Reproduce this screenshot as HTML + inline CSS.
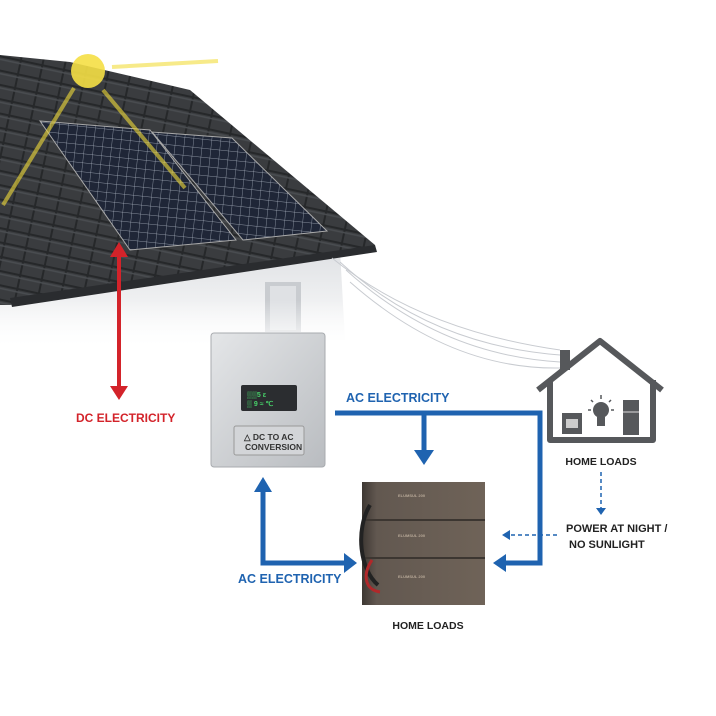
<!DOCTYPE html>
<html><head><style>html,body{margin:0;padding:0;background:#fff}svg{display:block}
text{font-family:"Liberation Sans",sans-serif;font-weight:bold}</style></head><body>
<svg width="716" height="716" viewBox="0 0 716 716" xmlns="http://www.w3.org/2000/svg">
<defs>
<linearGradient id="wall" x1="0" y1="0" x2="0" y2="1"><stop offset="0" stop-color="#dfe1e4"/><stop offset="1" stop-color="#fff"/></linearGradient>
<linearGradient id="inv" x1="0" y1="0" x2="1" y2="1"><stop offset="0" stop-color="#e4e6e8"/><stop offset="1" stop-color="#b9bcc0"/></linearGradient>
<linearGradient id="bat" x1="0" y1="0" x2="1" y2="0"><stop offset="0" stop-color="#3e3833"/><stop offset="0.12" stop-color="#625850"/><stop offset="1" stop-color="#6f6358"/></linearGradient>
<pattern id="cells" width="9" height="9" patternUnits="userSpaceOnUse" patternTransform="rotate(6)"><rect width="9" height="9" fill="#1f2637"/><path d="M0 0H9M0 0V9" stroke="#aab3c0" stroke-width="0.7"/></pattern>
<pattern id="tiles" width="22" height="14" patternUnits="userSpaceOnUse" patternTransform="rotate(12)"><rect width="22" height="14" fill="#3a3c3f"/><path d="M0 13H22M11 0V13" stroke="#26282a" stroke-width="2"/><path d="M0 2H22" stroke="#4a4d51" stroke-width="1.5"/></pattern>
<linearGradient id="fade" x1="0" y1="0" x2="0" y2="1"><stop offset="0" stop-color="#fff" stop-opacity="0"/><stop offset="1" stop-color="#fff"/></linearGradient>
</defs>
<polygon points="0,290 340,250 345,340 0,350" fill="url(#wall)"/>
<rect x="265" y="282" width="36" height="50" fill="#c9ccd0"/><rect x="270" y="286" width="26" height="44" fill="#dfe1e4"/>
<rect x="0" y="300" width="345" height="50" fill="url(#fade)"/>
<polygon points="0,55 70,62 190,90 375,245 375,252 10,305 0,305" fill="url(#tiles)"/>
<polygon points="10,298 375,245 377,252 12,307" fill="#2a2c2f"/>
<polygon points="40,121 150,130 236,240 130,250" fill="url(#cells)" stroke="#aaa" stroke-width="1"/>
<polygon points="152,132 232,138 327,231 243,240" fill="url(#cells)" stroke="#aaa" stroke-width="1"/>
<g stroke="#f2dc3a" stroke-opacity="0.6" stroke-width="4">
<line x1="112" y1="67" x2="218" y2="61"/><line x1="74" y1="88" x2="3" y2="205"/><line x1="103" y1="90" x2="185" y2="188"/></g>
<circle cx="88" cy="71" r="17" fill="#f5df45" opacity="0.9"/>
<g fill="none" stroke="#c8cbd0" stroke-width="1">
<path d="M332,258 Q420,330 560,350"/><path d="M340,262 Q430,345 560,355"/><path d="M346,270 Q440,355 560,362"/><path d="M350,282 Q450,370 560,368"/></g>
<line x1="119" y1="255" x2="119" y2="388" stroke="#d3232a" stroke-width="4"/>
<polygon points="110,257 128,257 119,242" fill="#d3232a"/><polygon points="110,386 128,386 119,400" fill="#d3232a"/>
<text x="76" y="422" font-size="12" fill="#d3232a">DC ELECTRICITY</text>
<rect x="211" y="333" width="114" height="134" rx="3" fill="url(#inv)" stroke="#a8abaf"/>
<rect x="241" y="385" width="56" height="26" rx="2" fill="#2b2d30"/>
<text x="247" y="397" font-size="7" fill="#47d36a">▒▒5  ε</text><text x="247" y="406" font-size="7" fill="#47d36a">▒  9 ≈  ℃</text>
<rect x="234" y="426" width="70" height="29" rx="2" fill="#d3d5d8" stroke="#999"/>
<text x="244" y="440" font-size="8.5" fill="#333">△ DC TO AC</text>
<text x="245" y="450" font-size="8.5" fill="#333">CONVERSION</text>
<g stroke="#1f63b0" stroke-width="5" fill="none">
<polyline points="335,413 540,413 540,563 505,563"/><line x1="424" y1="413" x2="424" y2="452"/>
<polyline points="263,490 263,563 345,563"/></g>
<g fill="#1f63b0"><polygon points="493,563 506,554 506,572"/><polygon points="414,450 434,450 424,465"/>
<polygon points="254,492 272,492 263,477"/><polygon points="344,553 344,573 357,563"/></g>
<text x="346" y="402" font-size="12.5" fill="#1f63b0">AC ELECTRICITY</text>
<text x="238" y="583" font-size="12.5" fill="#1f63b0">AC ELECTRICITY</text>
<rect x="362" y="482" width="123" height="123" fill="url(#bat)"/>
<g stroke="#3c3631" stroke-width="2"><line x1="362" y1="520" x2="485" y2="520"/><line x1="362" y1="558" x2="485" y2="558"/></g>
<path d="M370,505 C355,530 360,570 378,585" stroke="#222" stroke-width="4" fill="none"/>
<path d="M372,560 C362,575 365,590 380,592" stroke="#b0282a" stroke-width="3" fill="none"/>
<text x="398" y="497" font-size="4" fill="#b8a998">ELUMSUL 200</text><text x="398" y="537" font-size="4" fill="#b8a998">ELUMSUL 200</text><text x="398" y="578" font-size="4" fill="#b8a998">ELUMSUL 200</text>
<text x="428" y="629" font-size="10.5" fill="#222" text-anchor="middle">HOME LOADS</text>
<g stroke="#56585b" stroke-width="6" fill="none" stroke-linejoin="round">
<polyline points="538,390 600,341 662,390"/><polyline points="550,380 550,440 653,440 653,380"/></g>
<rect x="560" y="350" width="10" height="20" fill="#56585b"/>
<rect x="562" y="413" width="20" height="21" fill="#56585b"/><rect x="566" y="419" width="12" height="9" fill="#ccc"/>
<circle cx="601" cy="410" r="8" fill="#56585b"/><rect x="597" y="417" width="8" height="9" fill="#56585b"/>
<g stroke="#56585b" stroke-width="1.5"><line x1="601" y1="395" x2="601" y2="399"/><line x1="588" y1="410" x2="591" y2="410"/><line x1="611" y1="410" x2="614" y2="410"/><line x1="591" y1="400" x2="593" y2="402"/><line x1="611" y1="400" x2="609" y2="402"/></g>
<rect x="623" y="400" width="16" height="35" fill="#56585b"/><line x1="623" y1="412" x2="639" y2="412" stroke="#ddd"/>
<text x="601" y="465" font-size="10.5" fill="#222" text-anchor="middle">HOME LOADS</text>
<line x1="601" y1="472" x2="601" y2="508" stroke="#1f63b0" stroke-width="1.5" stroke-dasharray="4,3"/>
<polygon points="596,508 606,508 601,515" fill="#1f63b0"/>
<line x1="557" y1="535" x2="510" y2="535" stroke="#1f63b0" stroke-width="1.5" stroke-dasharray="4,3"/>
<polygon points="510,530 510,540 502,535" fill="#1f63b0"/>
<text x="566" y="532" font-size="11" fill="#222">POWER AT NIGHT /</text>
<text x="569" y="548" font-size="11" fill="#222">NO SUNLIGHT</text>
</svg></body></html>
